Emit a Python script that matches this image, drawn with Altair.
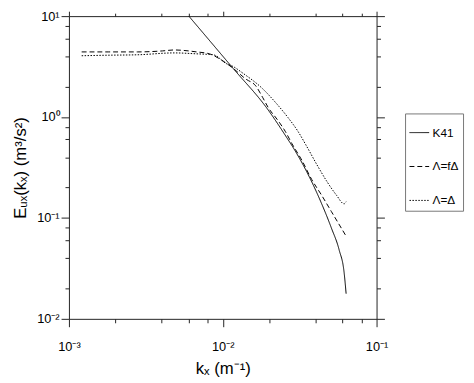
import altair as alt
import pandas as pd

FONT = "Liberation Sans"

series_names = ["K41", "Λ=fΔ", "Λ=Δ"]

# K41 model spectrum
k41_k = [0.00602, 0.01167, 0.01953, 0.02545, 0.02949, 0.03676, 0.04261, 0.05083, 0.05718, 0.06152, 0.0634]
k41_E = [10.0, 3.04, 1.202, 0.662, 0.465, 0.2507, 0.1543, 0.0796, 0.0479, 0.0288, 0.01775]

# Lambda = f Delta (dashed)
lfd_k = [0.00121, 0.0018, 0.0028, 0.00405, 0.00483, 0.00677, 0.0082, 0.0095, 0.01167, 0.01413,
         0.01637, 0.01815, 0.01983, 0.02264, 0.02547, 0.02821, 0.03268, 0.0379, 0.04386, 0.0508, 0.0634]
lfd_E = [4.42, 4.42, 4.42, 4.52, 4.62, 4.42, 4.23, 3.79, 3.04, 2.38,
         2.04, 1.57, 1.23, 0.943, 0.723, 0.543, 0.373, 0.240, 0.1686, 0.116, 0.066]

# Lambda = Delta (dotted)
ld_k = [0.00121, 0.0018, 0.0028, 0.00483, 0.00677, 0.00869, 0.01052, 0.01167, 0.01352, 0.01815,
        0.02198, 0.0266, 0.0308, 0.0347, 0.0414, 0.048, 0.0548, 0.0615, 0.0634]
ld_E = [4.05, 4.1, 4.14, 4.32, 4.23, 4.14, 3.39, 3.17, 2.72, 1.91,
        1.40, 0.985, 0.723, 0.53, 0.327, 0.2246, 0.1686, 0.138, 0.145]

x_major = [0.001, 0.01, 0.1]
x_minor = [0.002, 0.004, 0.006, 0.008, 0.02, 0.04, 0.06, 0.08]
y_major = [0.01, 0.1, 1, 10]
y_minor = [0.02, 0.04, 0.06, 0.08, 0.2, 0.4, 0.6, 0.8, 2, 4, 6, 8]

frames = []
for name, ks, es in zip(series_names, [k41_k, lfd_k, ld_k], [k41_E, lfd_E, ld_E]):
    frames.append(pd.DataFrame({"k": ks, "E": es, "series": name}))
df = pd.concat(frames, ignore_index=True)

xscale = alt.Scale(type="log", domain=[0.001, 0.1], nice=False)
yscale = alt.Scale(type="log", domain=[0.01, 10], nice=False)

exp_expr = ("'10' + ({e} == -3 ? '⁻³' : {e} == -2 ? '⁻²' : {e} == -1 ? '⁻¹' : "
            "{e} == 0 ? '⁰' : '¹')").format(e="round(log(datum.value)/LN10)")

lines = alt.Chart(df).mark_line(color="black", strokeWidth=1, interpolate="monotone", clip=True).encode(
    x=alt.X("k:Q", scale=xscale, axis=alt.Axis(
        orient="bottom", values=x_major, labelExpr=exp_expr, tickSize=8, labelPadding=14,
        title="kₓ (m⁻¹)", titleFontSize=17, titlePadding=8, labelFontSize=13,
        grid=False, domain=False, labelFlush=False)),
    y=alt.Y("E:Q", scale=yscale, axis=alt.Axis(
        orient="left", values=y_major, labelExpr=exp_expr, tickSize=8, labelPadding=2,
        title="Eᵤₓ(kₓ) (m³/s²)", titleFontSize=17, titlePadding=7, labelFontSize=13,
        grid=False, domain=False, labelFlush=False)),
    strokeDash=alt.StrokeDash("series:N", scale=alt.Scale(
        domain=series_names, range=[[1, 0], [5, 3], [1.5, 1.5]]),
        legend=alt.Legend(title=" ", titleFontSize=1, titlePadding=4,
                          orient="none", legendX=342, legendY=99,
                          symbolType="stroke", symbolSize=400, symbolStrokeWidth=1,
                          symbolStrokeColor="black", labelFont=FONT, labelFontSize=12,
                          labelColor="black", strokeColor="#777", padding=4,
                          rowPadding=17.5, labelOffset=3, fillColor="white")),
)


def tick_layer(xorient, xvals, xsize, yorient, yvals, ysize):
    return alt.Chart(df).mark_point(opacity=0).encode(
        x=alt.X("k:Q", scale=xscale, axis=alt.Axis(
            orient=xorient, values=xvals, tickSize=xsize, labels=False, title=None,
            grid=False, domain=False)),
        y=alt.Y("E:Q", scale=yscale, axis=alt.Axis(
            orient=yorient, values=yvals, tickSize=ysize, labels=False, title=None,
            grid=False, domain=False)),
    )


minor_bl = tick_layer("bottom", x_minor, 4, "left", y_minor, 4)
major_tr = tick_layer("top", x_major, 5, "right", y_major, 8)
minor_tr = tick_layer("top", x_minor, 3, "right", y_minor, 4)

chart = alt.layer(lines, minor_bl, major_tr, minor_tr).resolve_axis(
    x="independent", y="independent"
).properties(
    width=313, height=308,
    autosize=alt.AutoSizeParams(type="none"),
    padding={"left": 62, "top": 5, "right": 91, "bottom": 62},
).configure_view(
    stroke="#222", strokeWidth=1
).configure_axis(
    labelFont=FONT, titleFont=FONT, titleFontWeight="normal",
    labelColor="black", titleColor="black", tickColor="#222", tickWidth=1
)

chart.save("out.html", embed_options={"renderer": "svg", "actions": False})
